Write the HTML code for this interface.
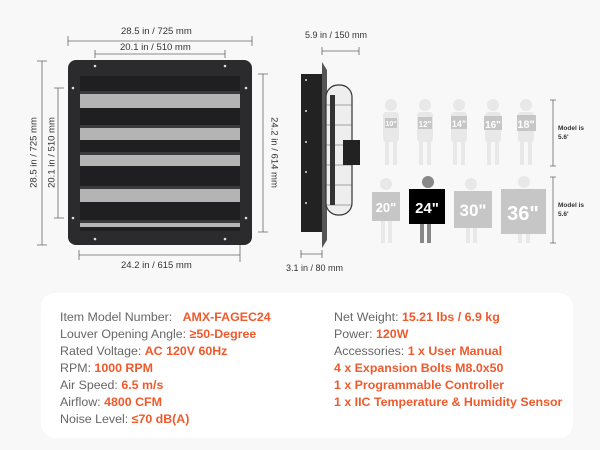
<!DOCTYPE html>
<html><head><meta charset="utf-8"><style>
html,body{margin:0;padding:0}
body{width:600px;height:450px;background:#f8f8f8;position:relative;overflow:hidden;font-family:"Liberation Sans",sans-serif}
.t{position:absolute;font-size:9.5px;color:#333;white-space:nowrap}
.panel{position:absolute;left:41px;top:293px;width:532px;height:145px;background:#fff;border-radius:14px}
.spec{position:absolute;font-size:12.4px;line-height:17px;color:#666;white-space:nowrap}
.spec b{color:#ef5a2c}
</style></head><body>
<svg width="600" height="290" style="position:absolute;left:0;top:0" xmlns="http://www.w3.org/2000/svg">
<g stroke="#666" stroke-width="0.8" fill="none">
<path d="M68 41H252M68 36V46M252 36V46"/>
<path d="M95 54H225M95 50V58M225 50V58"/>
<path d="M42 61V245M37 61H47M37 245H47"/>
<path d="M58 88V218M54 88H64M54 218H64"/>
<path d="M263 74V232M258 74H268M258 232H268"/>
<path d="M79 255H240M79 250V260M240 245V262"/>
<path d="M322 51H359M322 47V55M359 47V55"/>
<path d="M301 254H322M301 250V258M322 250V258"/>
<path d="M553 100V166M550 100H556M550 166H556"/>
<path d="M553 177V243M550 177H556M550 243H556"/>
</g>
<!-- front fan -->
<rect x="68" y="60" width="184" height="185" rx="8" fill="#2b2b2d"/>
<rect x="80" y="76" width="160" height="155" fill="#b4b4b4"/>
<g fill="#1f1f21">
<rect x="80" y="76" width="160" height="15"/>
<rect x="80" y="108" width="160" height="20"/>
<rect x="80" y="140" width="160" height="14"/>
<rect x="80" y="166" width="160" height="22"/>
<rect x="80" y="202" width="160" height="20"/>
<rect x="80" y="227" width="160" height="4"/>
</g>
<g fill="#3a3a3c"><rect x="80" y="91" width="160" height="3"/><rect x="80" y="125" width="160" height="3"/><rect x="80" y="152" width="160" height="3"/><rect x="80" y="186" width="160" height="3"/><rect x="80" y="220" width="160" height="3"/></g>
<g fill="#ddd"><circle cx="95" cy="66" r="1.3"/><circle cx="225" cy="66" r="1.3"/><circle cx="73" cy="88" r="1.3"/><circle cx="246" cy="88" r="1.3"/><circle cx="73" cy="218" r="1.3"/><circle cx="246" cy="218" r="1.3"/><circle cx="95" cy="239" r="1.3"/><circle cx="225" cy="239" r="1.3"/></g>
<!-- side -->
<rect x="301" y="74" width="22" height="158" fill="#222"/>
<polygon points="322,62 327,70 327,240 322,248" fill="#555"/>
<rect x="326" y="85" width="26" height="130" rx="12" fill="#eee" stroke="#333" stroke-width="1.2"/>
<g stroke="#555" stroke-width="0.6"><path d="M326 105H352M326 125H352M326 145H352M326 165H352M326 185H352M326 205H352"/></g>
<rect x="330" y="95" width="5" height="110" fill="#333"/>
<rect x="343" y="140" width="17" height="25" fill="#222"/>
<g fill="#ddd"><circle cx="306" cy="80" r="1"/><circle cx="306" cy="111" r="1"/><circle cx="306" cy="142" r="1"/><circle cx="306" cy="172" r="1"/><circle cx="306" cy="203" r="1"/></g>
<!-- figures -->
<g fill="#e8e8e8">
<circle cx="391" cy="105" r="6"/><rect x="383" y="112" width="16" height="30" rx="3"/><rect x="385" y="140" width="4" height="25"/><rect x="393" y="140" width="4" height="25"/>
<circle cx="425" cy="105" r="6"/><rect x="417" y="112" width="16" height="30" rx="3"/><rect x="419" y="140" width="4" height="25"/><rect x="427" y="140" width="4" height="25"/>
<circle cx="459" cy="105" r="6"/><rect x="451" y="112" width="16" height="30" rx="3"/><rect x="453" y="140" width="4" height="25"/><rect x="461" y="140" width="4" height="25"/>
<circle cx="493" cy="105" r="6"/><rect x="485" y="112" width="16" height="30" rx="3"/><rect x="487" y="140" width="4" height="25"/><rect x="495" y="140" width="4" height="25"/>
<circle cx="526" cy="105" r="6"/><rect x="518" y="112" width="16" height="30" rx="3"/><rect x="520" y="140" width="4" height="25"/><rect x="528" y="140" width="4" height="25"/>
<circle cx="386" cy="184" r="6"/><rect x="381" y="218" width="4" height="25"/><rect x="388" y="218" width="4" height="25"/>
<circle cx="471" cy="184" r="6"/><rect x="466" y="225" width="4" height="18"/><rect x="473" y="225" width="4" height="18"/>
<circle cx="524" cy="182" r="6"/><rect x="518" y="232" width="4" height="11"/><rect x="526" y="232" width="4" height="11"/>
</g>
<g fill="#c6c6c6">
<rect x="385" y="118" width="12" height="10"/><rect x="418" y="117" width="14" height="12"/><rect x="451" y="116" width="16" height="13"/><rect x="484" y="116" width="18" height="14"/><rect x="517" y="115" width="19" height="16"/>
<rect x="372" y="192" width="28" height="29"/><rect x="454" y="191" width="38" height="37"/><rect x="501" y="189" width="45" height="45"/>
</g>
<circle cx="428" cy="182" r="6" fill="#888"/>
<rect x="420" y="222" width="4" height="21" fill="#888"/><rect x="427" y="222" width="4" height="21" fill="#888"/>
<rect x="409" y="189" width="36" height="35" fill="#000"/>
<g fill="#fff" font-family="Liberation Sans" font-weight="bold" text-anchor="middle">
<text x="391" y="126" font-size="7">10"</text><text x="425" y="127" font-size="8">12"</text><text x="459" y="127" font-size="9">14"</text><text x="493" y="128" font-size="10">16"</text><text x="526" y="128" font-size="11">18"</text>
<text x="386" y="212" font-size="13">20"</text><text x="427" y="213" font-size="15">24"</text><text x="473" y="216" font-size="17">30"</text><text x="523" y="220" font-size="20">36"</text>
</g>
</svg>
<div class="t" style="left:121px;top:26px">28.5 in / 725 mm</div>
<div class="t" style="left:120px;top:42px">20.1 in / 510 mm</div>
<div class="t" style="left:121px;top:260px">24.2 in / 615 mm</div>
<div class="t" style="left:305px;top:30px;font-size:9px">5.9 in / 150 mm</div>
<div class="t" style="left:286px;top:263px;font-size:9px">3.1 in / 80 mm</div>
<div class="t" style="left:-6px;top:147px;transform:rotate(-90deg);width:80px;text-align:center">28.5 in / 725 mm</div>
<div class="t" style="left:12px;top:147px;transform:rotate(-90deg);width:80px;text-align:center">20.1 in / 510 mm</div>
<div class="t" style="left:234px;top:147px;transform:rotate(90deg);width:80px;text-align:center">24.2 in / 614 mm</div>
<div class="t" style="left:558px;top:124px;font-size:6.5px;font-weight:bold;line-height:9px">Model is<br>5.6'</div>
<div class="t" style="left:558px;top:201px;font-size:6.5px;font-weight:bold;line-height:9px">Model is<br>5.6'</div>
<div class="panel"></div>
<div class="spec" style="left:60px;top:309px">Item Model Number:&nbsp;&nbsp; <b>AMX-FAGEC24</b><br>Louver Opening Angle: <b>≥50-Degree</b><br>Rated Voltage: <b>AC 120V 60Hz</b><br>RPM: <b>1000 RPM</b><br>Air Speed: <b>6.5 m/s</b><br>Airflow: <b>4800 CFM</b><br>Noise Level: <b>≤70 dB(A)</b></div>
<div class="spec" style="left:334px;top:309px">Net Weight: <b>15.21 lbs / 6.9 kg</b><br>Power: <b>120W</b><br>Accessories: <b>1 x User Manual</b><br><b>4 x Expansion Bolts M8.0x50</b><br><b>1 x Programmable Controller</b><br><b>1 x IIC Temperature &amp; Humidity Sensor</b></div>
</body></html>
